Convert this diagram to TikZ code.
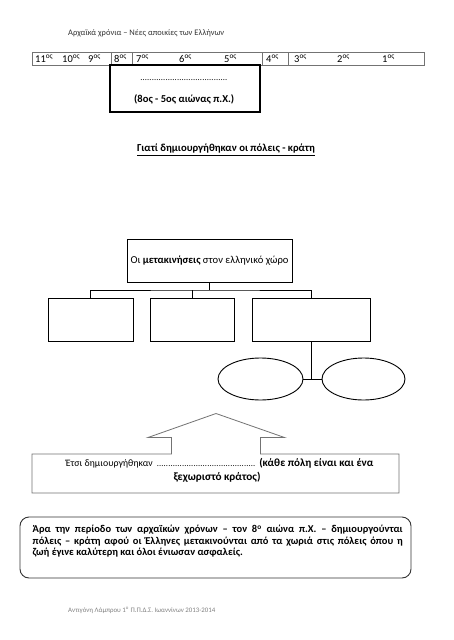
\documentclass[tikz,border=0pt]{standalone}
\usepackage{fontspec}
\setmainfont{Carlito}
\usetikzlibrary{shapes.geometric}
\newcommand{\dotrow}[1]{\hbox to #1{\leaders\hbox to 2.3pt{\hss.\hss}\hfill}}
\newlength\fitlen
\newcommand{\fitw}[3]{\settowidth\fitlen{\fontsize{10pt}{12pt}\selectfont#2#3}\pgfmathsetmacro\fitfs{10*#1/\fitlen}\fontsize{\fitfs pt}{\fitfs pt}\selectfont#2#3}
\begin{document}
\settowidth\fitlen{\fontsize{10pt}{12pt}\selectfont 11\textsuperscript{ος}}%
\pgfmathsetmacro\tlfs{10*18/\fitlen}%
\settowidth\fitlen{\fontsize{10pt}{12pt}\selectfont\bfseries πόλεις – κράτη αφού οι Έλληνες μετακινούνται από τα χωριά στις πόλεις όπου η}%
\pgfmathsetmacro\cfs{10*352/\fitlen}%
\begin{tikzpicture}[x=1pt,y=-1pt,
  lbl/.style={inner sep=0pt},
  dotfont/.style={inner sep=0pt, font=\fontsize{8.5}{9}\selectfont},
  tl/.style={inner sep=0pt, anchor=west, font=\fontsize{\tlfs pt}{\tlfs pt}\selectfont},
  graybox/.style={draw=black!55, line width=0.8pt},
  treebox/.style={draw=black, line width=0.9pt, minimum width=#1, minimum height=43pt, inner sep=0pt},
  oval/.style={draw=black, line width=0.9pt, ellipse, minimum width=#1, minimum height=42pt, inner sep=0pt},
  link/.style={draw=black, line width=0.9pt}
]
\useasboundingbox (0,0) rectangle (453,640);
\fill[white] (0,0) rectangle (453,640);

% header
\node[lbl, anchor=west, text=black!80] (hdr) at (68,33) {\fitw{156}{}{Αρχαϊκά χρόνια – Νέες αποικίες των Ελλήνων}};

% timeline
\draw[graybox] (32,52) rectangle (424,65);
\draw[graybox] (111,52) -- (111,65);
\draw[graybox] (132,52) -- (132,65);
\draw[graybox] (262,52) -- (262,65);
\draw[graybox] (288.5,52) -- (288.5,65);
\node[tl] (c11) at (35,59) {11\textsuperscript{ος}};
\node[tl] (c10) at (62,59) {10\textsuperscript{ος}};
\node[tl] (c9) at (88,59) {9\textsuperscript{ος}};
\node[tl] (c8) at (114,59) {8\textsuperscript{ος}};
\node[tl] (c7) at (136,59) {7\textsuperscript{ος}};
\node[tl] (c6) at (179,59) {6\textsuperscript{ος}};
\node[tl] (c5) at (224,59) {5\textsuperscript{ος}};
\node[tl] (c4) at (266,59) {4\textsuperscript{ος}};
\node[tl] (c3) at (294,59) {3\textsuperscript{ος}};
\node[tl] (c2) at (337,59) {2\textsuperscript{ος}};
\node[tl] (c1) at (382,59) {1\textsuperscript{ος}};

% period box
\draw[black, line width=2pt] (110,65) rectangle (260,112);
\node[dotfont, anchor=base west] (dots1) at (140,80) {\dotrow{89pt}};
\node[lbl] (period) at (184.2,99) {\fitw{100}{\bfseries}{(8ος - 5ος αιώνας π.Χ.)}};

% title
\node[lbl] (title) at (226,150) {\fitw{178}{\bfseries}{\underline{Γιατί δημιουργήθηκαν οι πόλεις - κράτη}}};

% tree
\node[draw=black, line width=0.9pt, minimum width=165pt, minimum height=43pt, inner sep=0pt] (main) at (209.5,260.5) {\fitw{158}{}{Οι \textbf{μετακινήσεις} στον ελληνικό χώρο}};
\node[treebox=85pt] (b1) at (90.5,319.5) {};
\node[treebox=84pt] (b2) at (192,319.5) {};
\node[treebox=118pt] (b3) at (311.5,319.5) {};
\coordinate (j) at (209.5,290);
\draw[link] (main.south) -- (j);
\draw[link] (b1.north) |- (j) -| (b3.north);
\draw[link] (b2.north) -- (b2.north |- j);
\node[oval=85pt] (e1) at (260.5,379) {};
\node[oval=83pt] (e2) at (363.5,379) {};
\coordinate (k) at (311.5,379);
\draw[link] (b3.south) -- (k);
\draw[link] (e1.east) -- (e2.west);

% arrow box
\draw[graybox, line join=miter] (32,454) -- (171.5,454) -- (171.5,437.5) -- (148,437.5) -- (216,413.5) -- (284.5,437.5) -- (260.5,437.5) -- (260.5,454) -- (399,454) -- (399,493) -- (32,493) -- cycle;
\node[lbl, anchor=base west] (etsiA) at (65.7,466) {\fitw{87}{}{Έτσι δημιουργήθηκαν}};
\node[dotfont, anchor=base west] (etsiD) at (156.5,466) {\dotrow{99pt}};
\node[lbl, anchor=base east] (etsiB) at (373.5,466) {\fitw{114}{\bfseries}{(κάθε πόλη είναι και ένα}};
\node[lbl] (etsi2) at (217,477.5) {\fitw{87}{\bfseries}{ξεχωριστό κράτος)}};

% conclusion
\draw[black!80, line width=0.9pt, rounded corners=9pt] (20,517) rectangle (411,578);
\node[inner sep=0pt, anchor=north west, text width=370pt, align=justify, font=\fontsize{\cfs pt}{11.5pt}\selectfont\bfseries] (concl) at (32.5,525)
{\hyphenpenalty=10000 Άρα την περίοδο των αρχαϊκών χρόνων – τον 8\textsuperscript{ο} αιώνα π.Χ. – δημιουργούνται\linebreak πόλεις – κράτη αφού οι Έλληνες μετακινούνται από τα χωριά στις πόλεις όπου η\linebreak ζωή έγινε καλύτερη και όλοι ένιωσαν ασφαλείς.};

% footer
\node[lbl, anchor=west, text=black!50] (foot) at (68,610) {\fitw{147}{}{Αντιγόνη Λάμπρου 1\textsuperscript{ο} Π.Π.Δ.Σ. Ιωαννίνων 2013-2014}};
\end{tikzpicture}
\end{document}
